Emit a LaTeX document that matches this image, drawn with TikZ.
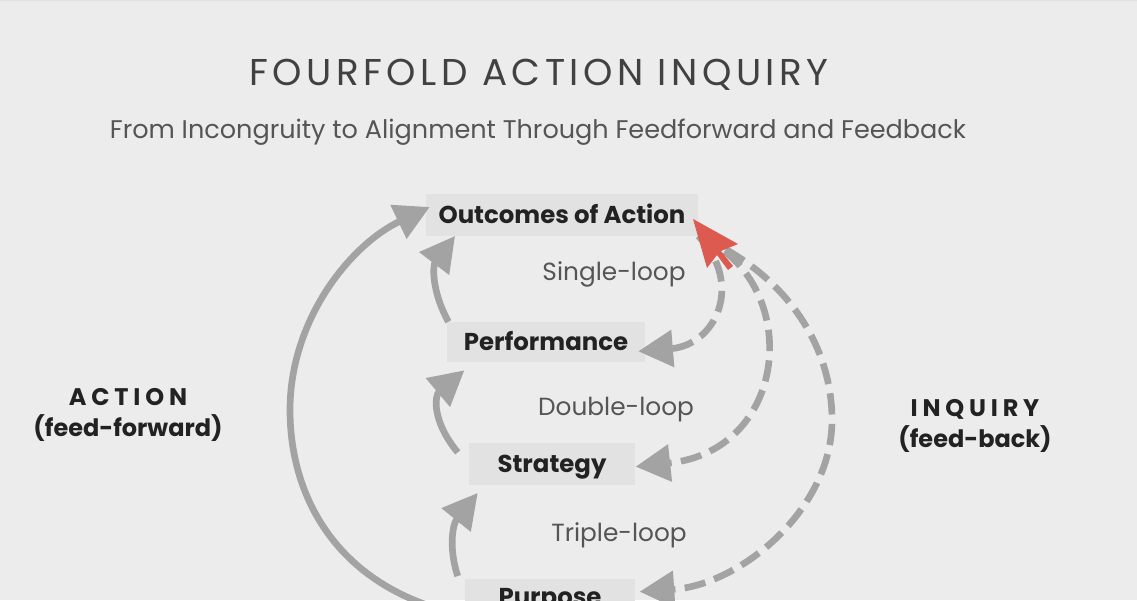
\documentclass[tikz,border=0pt]{standalone}
\usepackage{fontspec}
\usepackage{tikz}
\usetikzlibrary{arrows.meta}
\setmainfont{Poppins}
\definecolor{pagegray}{HTML}{ECECEC}
\definecolor{boxgray}{HTML}{E2E2E2}
\definecolor{arrowgray}{HTML}{A3A3A3}
\definecolor{inktext}{HTML}{222222}
\definecolor{softtext}{HTML}{555555}
\definecolor{cursorred}{HTML}{DC5A50}
\tikzset{
  levelbox/.style={fill=boxgray,text=inktext,inner sep=0pt,text height=13pt,text depth=0pt,font=\fontsize{18.3}{20}\selectfont\bfseries},
  looplabel/.style={text=softtext,inner sep=0pt,font=\fontsize{18.6}{20}\selectfont},
  sidelabel/.style={text=inktext,inner sep=0pt,align=center,font=\fontsize{18}{23.5}\selectfont\bfseries},
  actionline/.style={draw=arrowgray,line width=5pt,-{Triangle[length=26pt,width=27pt]}},
  inquiryline/.style={actionline,dash pattern=on 16pt off 7pt}
}
\begin{document}
\begin{tikzpicture}[x=0.75pt,y=0.75pt]
\useasboundingbox (0,0) rectangle (1137,-600);
\clip (0,0) rectangle (1137,-600);
\fill [pagegray] (0,0) rectangle (1137,-600);
\draw [boxgray,line width=1pt] (0,-0.5) -- (1137,-0.5);
\node (title) at (539,-75) [text=softtext!60!inktext,inner sep=0pt] {\addfontfeatures{LetterSpace=12}\fontsize{28}{30}\selectfont FOURFOLD ACTION INQUIRY};
\node (subtitle) at (538,-132) [text=softtext,inner sep=0pt] {\fontsize{19.15}{22}\selectfont From Incongruity to Alignment Through Feedforward and Feedback};
\node (outcomes) at (562,-215) [levelbox,minimum width=204pt,minimum height=31pt] {Outcomes of Action};
\node (performance) at (546,-342) [levelbox,minimum width=148pt,minimum height=30pt] {Performance};
\node (strategy) at (552,-464) [levelbox,minimum width=125pt,minimum height=31pt] {Strategy};
\node (purpose) at (550,-597) [levelbox,minimum width=128pt,minimum height=27pt] {Purpose};
\node (single) at (614,-274) [looplabel] {Single-loop};
\node (double) at (616,-410) [looplabel] {Double-loop};
\node (triple) at (619,-535) [looplabel] {Triple-loop};
\node (action) at (128,-415) [sidelabel] {{\addfontfeatures{LetterSpace=20}ACTION}\\(feed-forward)};
\node (inquiry) at (975,-426) [sidelabel] {{\addfontfeatures{LetterSpace=20}INQUIRY}\\(feed-back)};
\coordinate (actionbend) at (290,-410);
\coordinate (inquirybend) at (832,-420);
\draw [actionline] (purpose.south west) .. controls (340,-590) and (290,-500) .. (actionbend) .. controls (290,-320) and (350,-245) .. ([xshift=3pt,yshift=6pt]outcomes.west);
\draw [actionline] ([xshift=1pt]performance.north west) .. controls (431,-290) and (433,-265) .. ([xshift=22pt]outcomes.south west);
\draw [actionline] ([xshift=-8pt,yshift=-7pt]strategy.north west) .. controls (431,-420) and (435,-395) .. ([xshift=13pt,yshift=-6pt]performance.south west);
\draw [actionline] ([xshift=-5pt,yshift=2pt]purpose.north west) .. controls (449,-550) and (452,-525) .. ([xshift=7pt,yshift=-6pt]strategy.south west);
\draw [inquiryline] (outcomes.south east) .. controls (745,-285) and (715,-345) .. ([xshift=-5pt,yshift=-7pt]performance.east);
\draw [inquiryline] (outcomes.south east) .. controls (803,-280) and (792,-450) .. ([yshift=-2pt]strategy.east);
\draw [inquiryline] (outcomes.south east) .. controls (780,-270) and (832,-340) .. (inquirybend) .. controls (832,-510) and (740,-585) .. ([xshift=3pt,yshift=4pt]purpose.east);
\fill [cursorred] (693,-219) -- (738,-244) -- (721,-251) -- (733,-266) -- (728,-270) -- (717,-255) -- (707,-268) -- cycle;
\end{tikzpicture}
\end{document}
